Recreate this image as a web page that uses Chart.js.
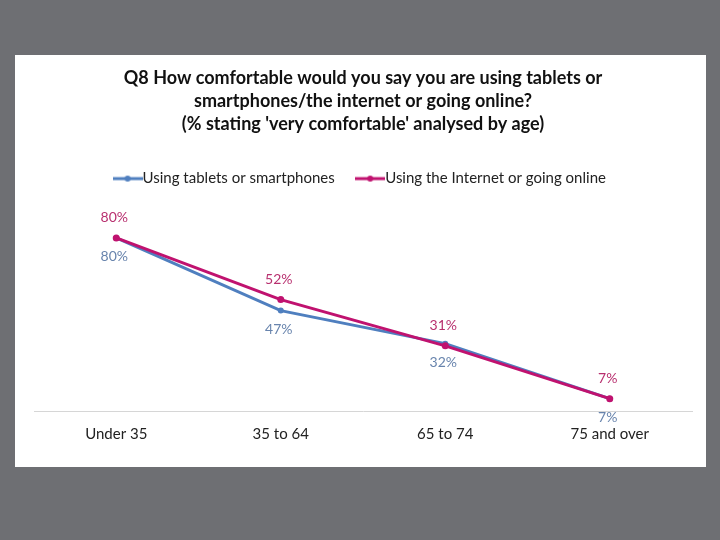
<!DOCTYPE html>
<html>
<head>
<meta charset="utf-8">
<script src="https://cdn.jsdelivr.net/npm/chart.js@4/dist/chart.umd.min.js"></script>
<style>
    html, body { margin: 0; padding: 0; }
    body { width: 720px; height: 540px; background: #6e6f73; position: relative; overflow: hidden; }
    #panel { position: absolute; left: 15px; top: 55px; width: 691px; height: 412px; background: #fff; }
</style>
</head>
<body>
<div id="panel"><canvas id="ageChart" width="691" height="412"></canvas></div>
<script>
// Q8 comfort with tablets / internet by age
const ageGroups = ['Under 35', '35 to 64', '65 to 74', '75 and over'];
const tabletsPct = [80, 47, 32, 7];
const internetPct = [80, 52, 31, 7];

const BLUE = '#4f7fbf';
const MAGENTA = '#c0126f';

// little line-with-dot swatch for the legend
function legendSwatch(color) {
    const c = document.createElement('canvas');
    c.width = 30;
    c.height = 10;
    const ctx = c.getContext('2d');
    ctx.strokeStyle = color;
    ctx.lineWidth = 3;
    ctx.beginPath();
    ctx.moveTo(0, 5);
    ctx.lineTo(30, 5);
    ctx.stroke();
    ctx.fillStyle = color;
    ctx.beginPath();
    ctx.arc(15, 5, 3, 0, Math.PI * 2);
    ctx.fill();
    return c;
}

// percent labels: internet above the point, tablets below
const pointLabels = {
    id: 'pointLabels',
    afterDatasetsDraw(chart) {
        const ctx = chart.ctx;
        ctx.save();
        ctx.font = '14px Lato, sans-serif';
        ctx.textAlign = 'center';
        ctx.textBaseline = 'middle';
        chart.data.datasets.forEach((ds, i) => {
            const meta = chart.getDatasetMeta(i);
            const above = i === 1;
            ctx.fillStyle = above ? '#b8306f' : '#6884ad';
            meta.data.forEach((pt, j) => {
                const dy = above ? -20 : 19;
                ctx.fillText(ds.data[j] + '%', pt.x - 2, pt.y + dy);
            });
        });
        ctx.restore();
    }
};

new Chart(document.getElementById('ageChart'), {
    type: 'line',
    data: {
        labels: ageGroups,
        datasets: [
            {
                label: 'Using tablets or smartphones',
                data: tabletsPct,
                borderColor: BLUE,
                backgroundColor: BLUE,
                borderWidth: 3,
                pointRadius: 3,
                pointBorderWidth: 0,
                pointBackgroundColor: BLUE,
                tension: 0,
                clip: false,
                order: 2
            },
            {
                label: 'Using the Internet or going online',
                data: internetPct,
                borderColor: MAGENTA,
                backgroundColor: MAGENTA,
                borderWidth: 3,
                pointRadius: 3.5,
                pointBorderWidth: 0,
                pointBackgroundColor: MAGENTA,
                tension: 0,
                clip: false,
                order: 1
            }
        ]
    },
    options: {
        responsive: false,
        animation: false,
        layout: {
            padding: { top: 10, bottom: 10, left: 19, right: 14 }
        },
        plugins: {
            title: {
                display: true,
                text: [
                    'Q8 How comfortable would you say you are using tablets or',
                    'smartphones/the internet or going online?',
                    "(% stating 'very comfortable' analysed by age)"
                ],
                color: '#111',
                font: { family: 'Lato, sans-serif', size: 18, weight: 'bold', lineHeight: 1.28 },
                padding: { top: 2, bottom: 7 }
            },
            legend: {
                display: true,
                labels: {
                    color: '#222',
                    font: { family: 'Lato, sans-serif', size: 15 },
                    usePointStyle: true,
                    padding: 28,
                    generateLabels(chart) {
                        return chart.data.datasets.map((ds, i) => ({
                            text: ds.label,
                            pointStyle: legendSwatch(ds.borderColor),
                            fontColor: '#222',
                            hidden: false,
                            datasetIndex: i,
                            lineWidth: 0,
                            strokeStyle: ds.borderColor,
                            fillStyle: ds.borderColor
                        }));
                    }
                }
            },
            tooltip: { enabled: false }
        },
        scales: {
            y: {
                display: false,
                min: 1.4,
                max: 99
            },
            x: {
                offset: true,
                grid: { display: false, drawTicks: false },
                border: { display: true, color: '#d6d6d6', width: 1 },
                ticks: {
                    color: '#222',
                    font: { family: 'Lato, sans-serif', size: 15 },
                    padding: 14,
                    maxRotation: 0
                }
            }
        }
    },
    plugins: [pointLabels]
});
</script>
</body>
</html>
